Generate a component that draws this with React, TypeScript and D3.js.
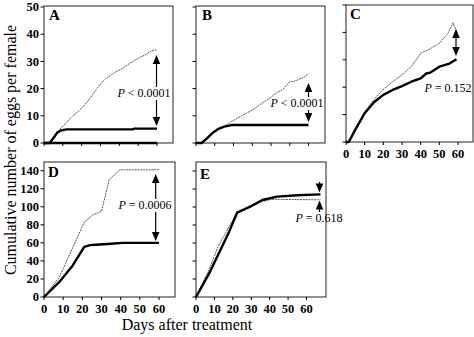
import React from "react";
import * as d3 from "d3";

// ---- data ----
const aDaysThin = [0, 3, 6, 9, 12, 15, 18, 21, 24, 27, 30, 33, 36, 39, 42, 45, 48, 51, 54, 57, 59, 60];
const aThin = [0, 0, 2.5, 5.5, 7.5, 9.8, 11.5, 13.5, 16, 19, 21.8, 23.8, 25.2, 26.5, 27.5, 29, 30.3, 31.5, 32.5, 33.8, 34.3, 33.8];
const aDaysThick = [0, 3, 5, 7, 9, 12, 20, 47, 48, 60];
const aThick = [0, 0, 1.8, 3.8, 4.6, 5, 5, 5, 5.3, 5.3];
const aDaysZero = [0, 60];
const aZero = [0, 0];

const bDaysThin = [0, 3, 6, 9, 12, 15, 20, 25, 30, 35, 40, 43, 46, 50, 53, 56, 58, 60];
const bThin = [0, 0, 1.8, 3.8, 5.2, 6.1, 8.3, 10.2, 12.1, 14.5, 16.8, 18.5, 19.5, 22.5, 22.8, 23.8, 24.3, 25.6];
const bDaysThick = [0, 3, 6, 9, 12, 15, 19, 60];
const bThick = [0, 0, 1.8, 3.8, 5.2, 6, 6.6, 6.6];

const cDaysThin = [0, 1.5, 5, 10, 15, 20, 25, 30, 35, 40, 45, 50, 54.7, 57.4, 59.2];
const cThin = [0, 0.5, 5, 11, 15.5, 19.2, 22, 24.5, 27.5, 32.4, 34, 36, 39.7, 43.5, 40.3];
const cDaysThick = [0, 1.5, 5, 10, 15, 20, 25, 30, 35, 40, 43, 45, 50, 55, 59.2];
const cThick = [0, 0, 4.5, 10.5, 14.5, 17.2, 19, 20.4, 22, 23.2, 25, 25.3, 27.5, 28.5, 30.2];

const dDaysThin = [0, 8, 14, 21, 25.5, 30, 34, 39.5, 60];
const dThin = [0, 22, 50, 83, 91, 95, 130, 141, 141];
const dDaysThick = [0, 8, 15, 21, 24, 27, 35, 41, 60];
const dThick = [0, 16.7, 35, 55.6, 57.5, 58, 59, 60, 60];

const eDaysThin = [0, 7, 12, 19, 22.3, 30, 36, 41, 67.6];
const eThin = [0, 30, 56, 82, 93.7, 101, 106, 108.5, 108];
const eDaysThick = [0, 7.6, 18, 22.3, 30, 36, 44, 55, 67.6];
const eThick = [0, 28, 72.6, 93.7, 101, 107.8, 111.5, 113, 114];

const xTicks = [0, 10, 20, 30, 40, 50, 60];
const yTicksSmall = [0, 10, 20, 30, 40, 50];
const yTicksLarge = [0, 20, 40, 60, 80, 100, 120, 140];

const pLabels = ["< 0.0001", "< 0.0001", "= 0.152", "= 0.0006", "= 0.618"];
const panelLetters = ["A", "B", "C", "D", "E"];

const yTitle = "Cumulative number of eggs per female";
const xTitle = "Days after treatment";

const FONT = "'Liberation Serif', 'Times New Roman', serif";

type Pt = [number, number];
const zip = (xs: number[], ys: number[]): Pt[] => xs.map((x, i) => [x, ys[i]]);

interface PanelCfg {
  letter: string;
  left: number;
  x60: number;
  boxRight: number;
  top: number;
  bottom: number;
  ymax: number;
  yTop: number;
  yTicks: number[];
  showYLabels: boolean;
  showXLabels: boolean;
  thin: Pt[];
  thick: Pt[][];
  p: string;
  pX: number;
  pY: number;
  arrowX: number;
  arrowTop: number;
  arrowBottom: number;
  split?: { downTip: number; downTail: number; upTip: number; upTail: number };
  letterX: number;
  letterY: number;
}

const panels: PanelCfg[] = [
  {
    letter: panelLetters[0], left: 44, x60: 157, boxRight: 173, top: 6, bottom: 143, ymax: 50, yTop: 7,
    yTicks: yTicksSmall, showYLabels: true, showXLabels: false,
    thin: zip(aDaysThin, aThin), thick: [zip(aDaysThick, aThick), zip(aDaysZero, aZero)],
    p: pLabels[0], pX: 144, pY: 97, arrowX: 156.5, arrowTop: 55, arrowBottom: 126,
    letterX: 49, letterY: 20,
  },
  {
    letter: panelLetters[1], left: 196, x60: 308.5, boxRight: 325, top: 6, bottom: 143, ymax: 50, yTop: 7,
    yTicks: yTicksSmall, showYLabels: false, showXLabels: false,
    thin: zip(bDaysThin, bThin), thick: [zip(bDaysThick, bThick)],
    p: pLabels[1], pX: 297, pY: 107, arrowX: 308.5, arrowTop: 83, arrowBottom: 122,
    letterX: 202, letterY: 20,
  },
  {
    letter: panelLetters[2], left: 346, x60: 458, boxRight: 473, top: 5, bottom: 142, ymax: 50, yTop: 5,
    yTicks: yTicksSmall, showYLabels: false, showXLabels: true,
    thin: zip(cDaysThin, cThin), thick: [zip(cDaysThick, cThick)],
    p: pLabels[2], pX: 448, pY: 92, arrowX: 456, arrowTop: 29, arrowBottom: 56,
    letterX: 350, letterY: 19,
  },
  {
    letter: panelLetters[3], left: 44, x60: 159, boxRight: 175, top: 162, bottom: 297, ymax: 150, yTop: 161.7,
    yTicks: yTicksLarge, showYLabels: true, showXLabels: true,
    thin: zip(dDaysThin, dThin), thick: [zip(dDaysThick, dThick)],
    p: pLabels[3], pX: 145, pY: 209, arrowX: 155.7, arrowTop: 174, arrowBottom: 241,
    letterX: 48, letterY: 177,
  },
  {
    letter: panelLetters[4], left: 196, x60: 306.5, boxRight: 326, top: 162, bottom: 297, ymax: 150, yTop: 162,
    yTicks: yTicksLarge, showYLabels: false, showXLabels: true,
    thin: zip(eDaysThin, eThin), thick: [zip(eDaysThick, eThick)],
    p: pLabels[4], pX: 319, pY: 222, arrowX: 319.5, arrowTop: 0, arrowBottom: 0,
    split: { downTip: 192.5, downTail: 182, upTip: 200.5, upTail: 212 },
    letterX: 200, letterY: 179,
  },
];

const Head = ({ x, tip, dir }: { x: number; tip: number; dir: 1 | -1 }) => {
  // dir = -1 : points up, tip at top; dir = 1 : points down
  const h = 9, w = 3.8;
  const base = tip - dir * h;
  return <path d={`M${x},${tip} L${x - w},${base} L${x + w},${base} Z`} fill="#000" />;
};

const Panel = ({ c }: { c: PanelCfg }) => {
  const x = d3.scaleLinear().domain([0, 60]).range([c.left, c.x60]);
  const y = d3.scaleLinear().domain([0, c.ymax]).range([c.bottom, c.yTop]);
  const line = d3.line<Pt>().x((d) => x(d[0])).y((d) => y(d[1]));
  const pWidth = 12 * 0.3 * c.p.length + 7;
  return (
    <g>
      {/* frame */}
      <rect x={c.left} y={c.top} width={c.boxRight - c.left} height={c.bottom - c.top} fill="none" stroke="#222" strokeWidth={1} />
      {/* y ticks */}
      {c.yTicks.map((t) => (
        <g key={"y" + t}>
          <line x1={c.left - 3.5} x2={c.left} y1={y(t)} y2={y(t)} stroke="#000" strokeWidth={1} />
          {c.showYLabels && (
            <text x={c.left - 5} y={y(t) + 4.2} textAnchor="end" fontSize={12.5} fontWeight="bold" fontFamily={FONT}>{t}</text>
          )}
        </g>
      ))}
      {/* x ticks */}
      {xTicks.map((t) => (
        <g key={"x" + t}>
          <line x1={x(t)} x2={x(t)} y1={c.bottom} y2={c.bottom + 3} stroke="#000" strokeWidth={1} />
          {c.showXLabels && (
            <text x={x(t)} y={c.bottom + 16} textAnchor="middle" fontSize={12.5} fontWeight="bold" fontFamily={FONT}>{t}</text>
          )}
        </g>
      ))}
      {/* series */}
      <path d={line(c.thin) || ""} fill="none" stroke="#444" strokeWidth={0.9} strokeDasharray="2,0.8" />
      {c.thick.map((s, i) => (
        <path key={i} d={line(s) || ""} fill="none" stroke="#000" strokeWidth={2.4} strokeLinejoin="round" />
      ))}
      {/* arrows */}
      {c.split ? (
        <g>
          <line x1={c.arrowX} x2={c.arrowX} y1={c.split.downTail} y2={c.split.downTip - 5} stroke="#000" strokeWidth={1.2} />
          <Head x={c.arrowX} tip={c.split.downTip} dir={1} />
          <line x1={c.arrowX} x2={c.arrowX} y1={c.split.upTail} y2={c.split.upTip + 5} stroke="#000" strokeWidth={1.2} />
          <Head x={c.arrowX} tip={c.split.upTip} dir={-1} />
        </g>
      ) : (
        <g>
          <line x1={c.arrowX} x2={c.arrowX} y1={c.arrowTop + 5} y2={c.arrowBottom - 5} stroke="#000" strokeWidth={1.2} />
          <Head x={c.arrowX} tip={c.arrowTop} dir={-1} />
          <Head x={c.arrowX} tip={c.arrowBottom} dir={1} />
        </g>
      )}
      {/* P label */}
      {!c.split && (
        <rect x={c.pX - pWidth / 2} y={c.pY - 10} width={pWidth} height={13} fill="#fff" />
      )}
      <text x={c.pX} y={c.pY} textAnchor="middle" fontSize={12} fontFamily={FONT}>
        <tspan fontStyle="italic">P</tspan>
        <tspan>{" " + c.p}</tspan>
      </text>
      {/* panel letter */}
      <text x={c.letterX} y={c.letterY} fontSize={15} fontWeight="bold" fontFamily={FONT}>{c.letter}</text>
    </g>
  );
};

export default function App() {
  return (
    <svg width={474} height={337} style={{ position: "absolute", left: 0, top: 0, background: "#fff" }}>
      <rect x={0} y={0} width={474} height={337} fill="#fff" />
      {panels.map((c) => (
        <Panel key={c.letter} c={c} />
      ))}
      <text transform="translate(16,150) rotate(-90)" textAnchor="middle" fontSize={16} fontFamily={FONT}>{yTitle}</text>
      <text x={187} y={330} textAnchor="middle" fontSize={16} fontFamily={FONT}>{xTitle}</text>
    </svg>
  );
}
